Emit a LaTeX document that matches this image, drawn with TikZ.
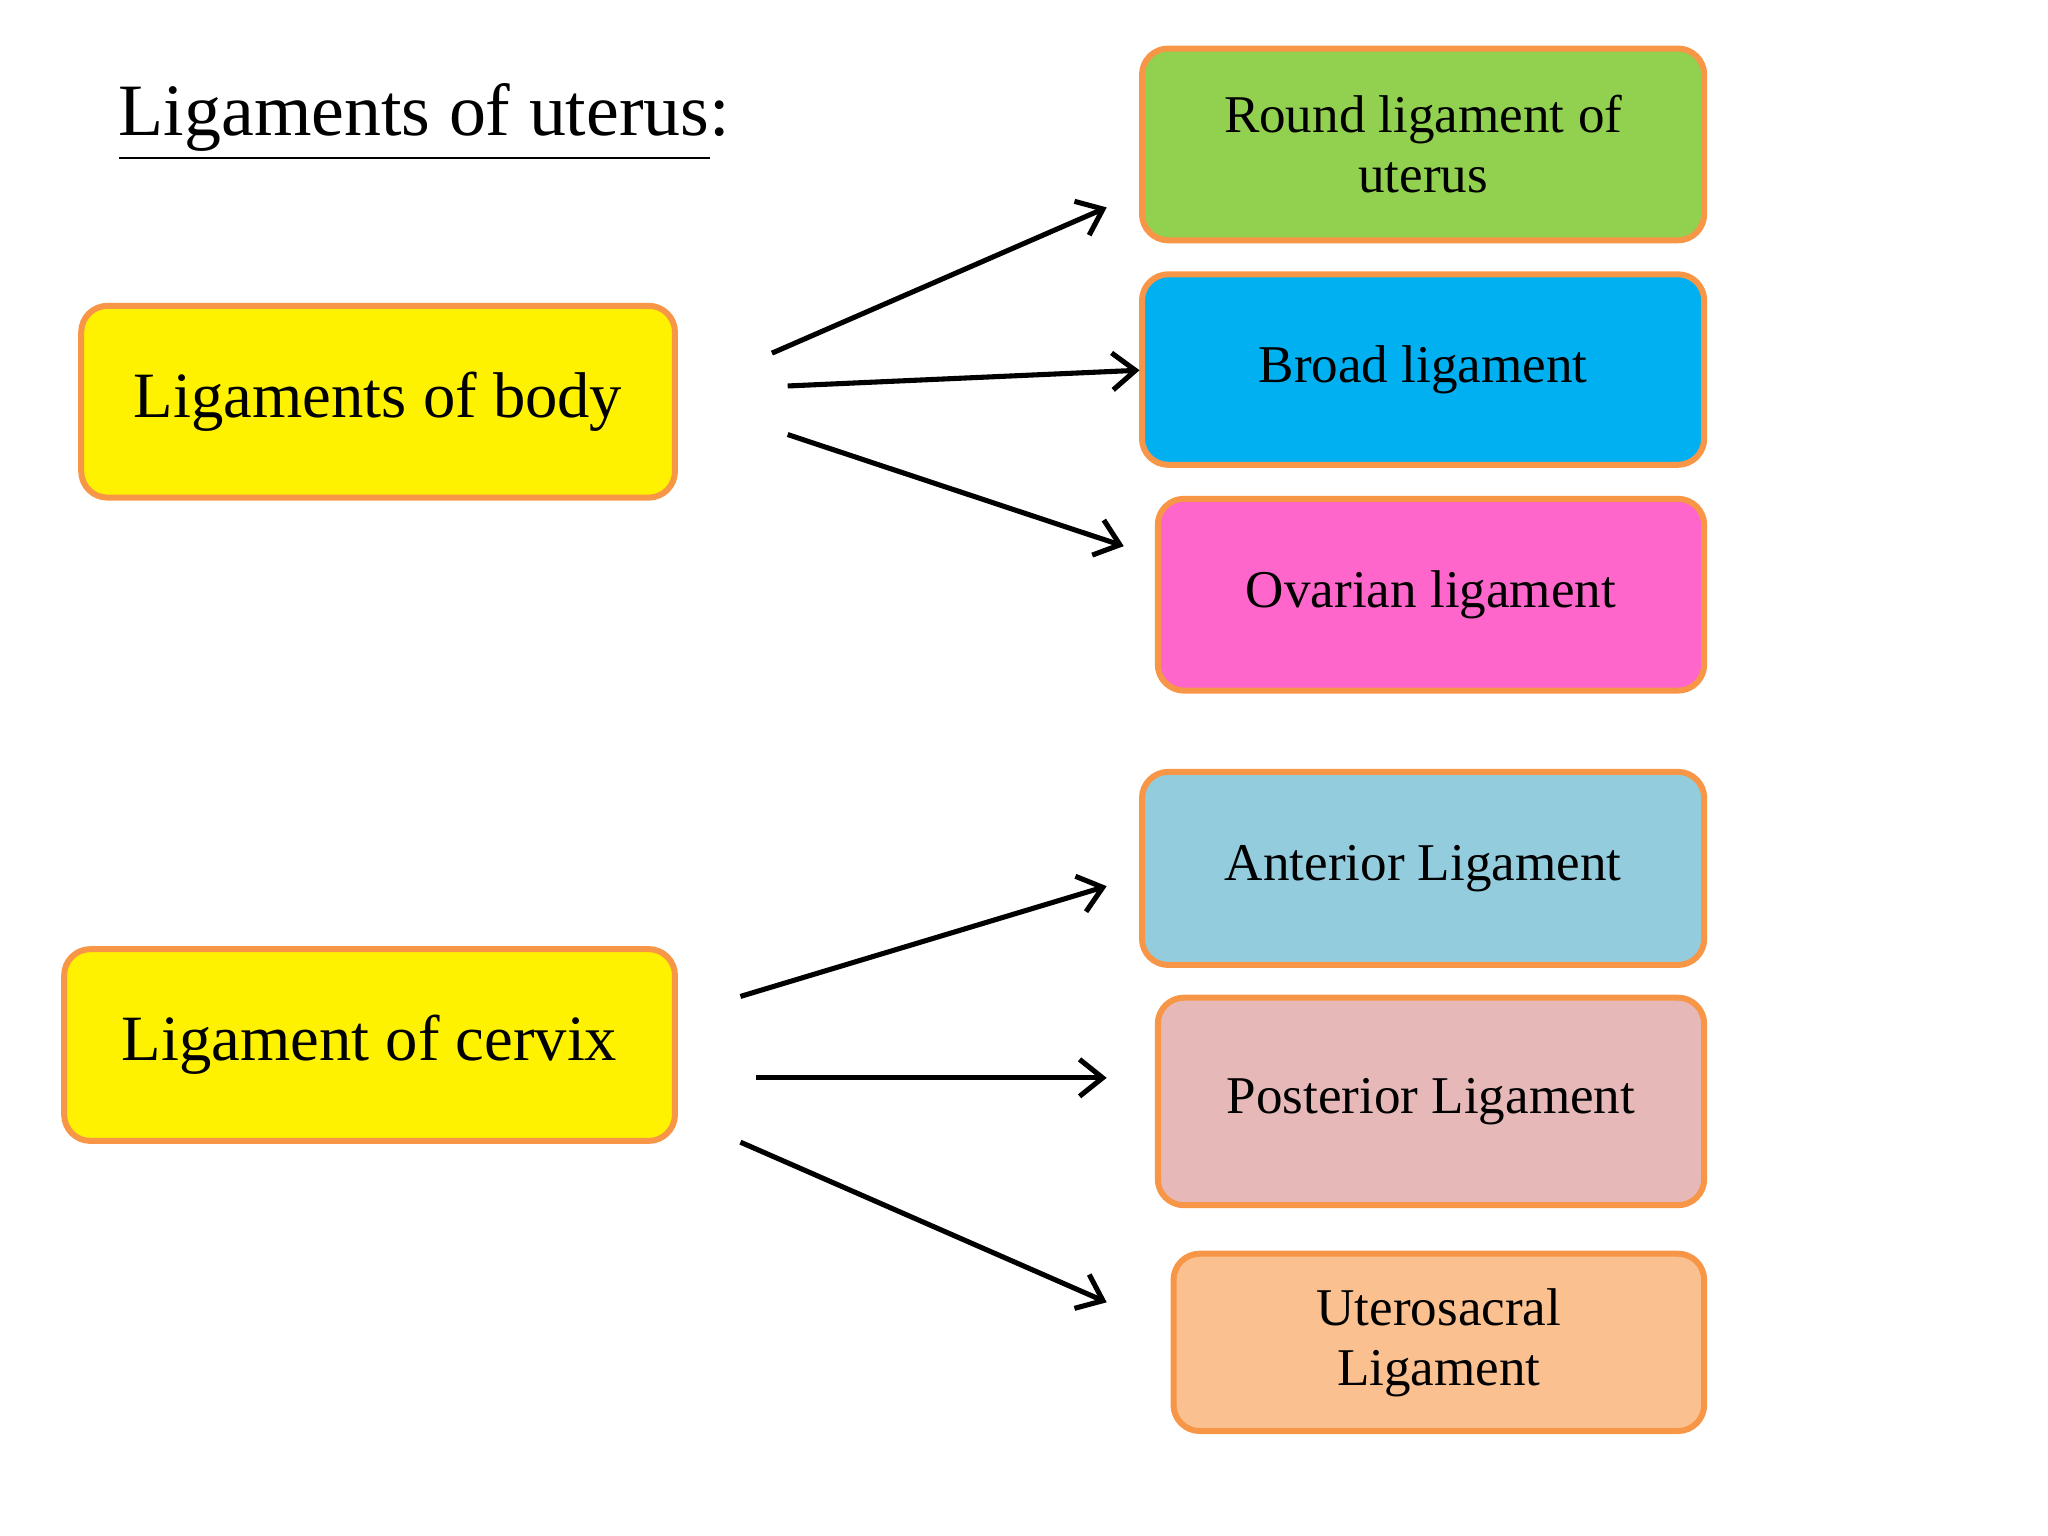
\documentclass[tikz,border=0pt]{standalone}
\usepackage{fontspec}
\setmainfont{Liberation Serif}
\usetikzlibrary{arrows.meta}
\definecolor{bord}{HTML}{F79646}
\definecolor{c1}{HTML}{92D050}\definecolor{c2}{HTML}{00B0F0}\definecolor{c3}{HTML}{FF66CC}
\definecolor{c4}{HTML}{93CDDD}\definecolor{c5}{HTML}{E6B9B8}\definecolor{c6}{HTML}{FAC090}
\begin{document}
\begin{tikzpicture}[x=0.01cm,y=-0.01cm,
  box/.style={draw=bord,line width=1.3pt,rounded corners=0.2cm,align=center,font=\fontsize{11.5}{13}\selectfont,inner sep=0pt},
  big/.style={box,font=\fontsize{14}{16}\selectfont},
  arr/.style={line width=1.1pt,-{Straight Barb[length=5pt,width=8pt]}}]
\useasboundingbox (0,0) rectangle (1560,1170);
\node[anchor=base west,font=\fontsize{16}{18}\selectfont] (title) at (78,103) {\underline{Ligaments of uterus}:};
\node[big,fill=yellow,minimum width=4.52cm,minimum height=1.46cm] (body) at (288,306) {Ligaments of body};
\node[big,fill=yellow,minimum width=4.65cm,minimum height=1.46cm] (cervix) at (281.5,796) {Ligament of cervix};
\node[box,fill=c1,minimum width=4.28cm,minimum height=1.46cm] (round) at (1084,110) {Round ligament of\\uterus};
\node[box,fill=c2,minimum width=4.28cm,minimum height=1.45cm] (broad) at (1084,281.5) {Broad ligament};
\node[box,fill=c3,minimum width=4.16cm,minimum height=1.46cm] (ovar) at (1090,453) {Ovarian ligament};
\node[box,fill=c4,minimum width=4.28cm,minimum height=1.47cm] (ant) at (1084,661.5) {Anterior Ligament};
\node[box,fill=c5,minimum width=4.16cm,minimum height=1.58cm] (post) at (1090,839) {Posterior Ligament};
\node[box,fill=c6,minimum width=4.04cm,minimum height=1.35cm] (utero) at (1096,1022.5) {Uterosacral\\Ligament};
\coordinate (a1) at (588,269); \coordinate (b1) at (843,158);
\coordinate (a2) at (600,294); \coordinate (b2) at (868,282);
\coordinate (a3) at (600,331); \coordinate (b3) at (856,416);
\coordinate (a4) at (564,759); \coordinate (b4) at (843,675);
\coordinate (a5) at (576,821); \coordinate (b5) at (843,821);
\coordinate (a6) at (564,870); \coordinate (b6) at (843,992);
\foreach \i in {1,...,6} \draw[arr] (a\i) -- (b\i);
\end{tikzpicture}
\end{document}
